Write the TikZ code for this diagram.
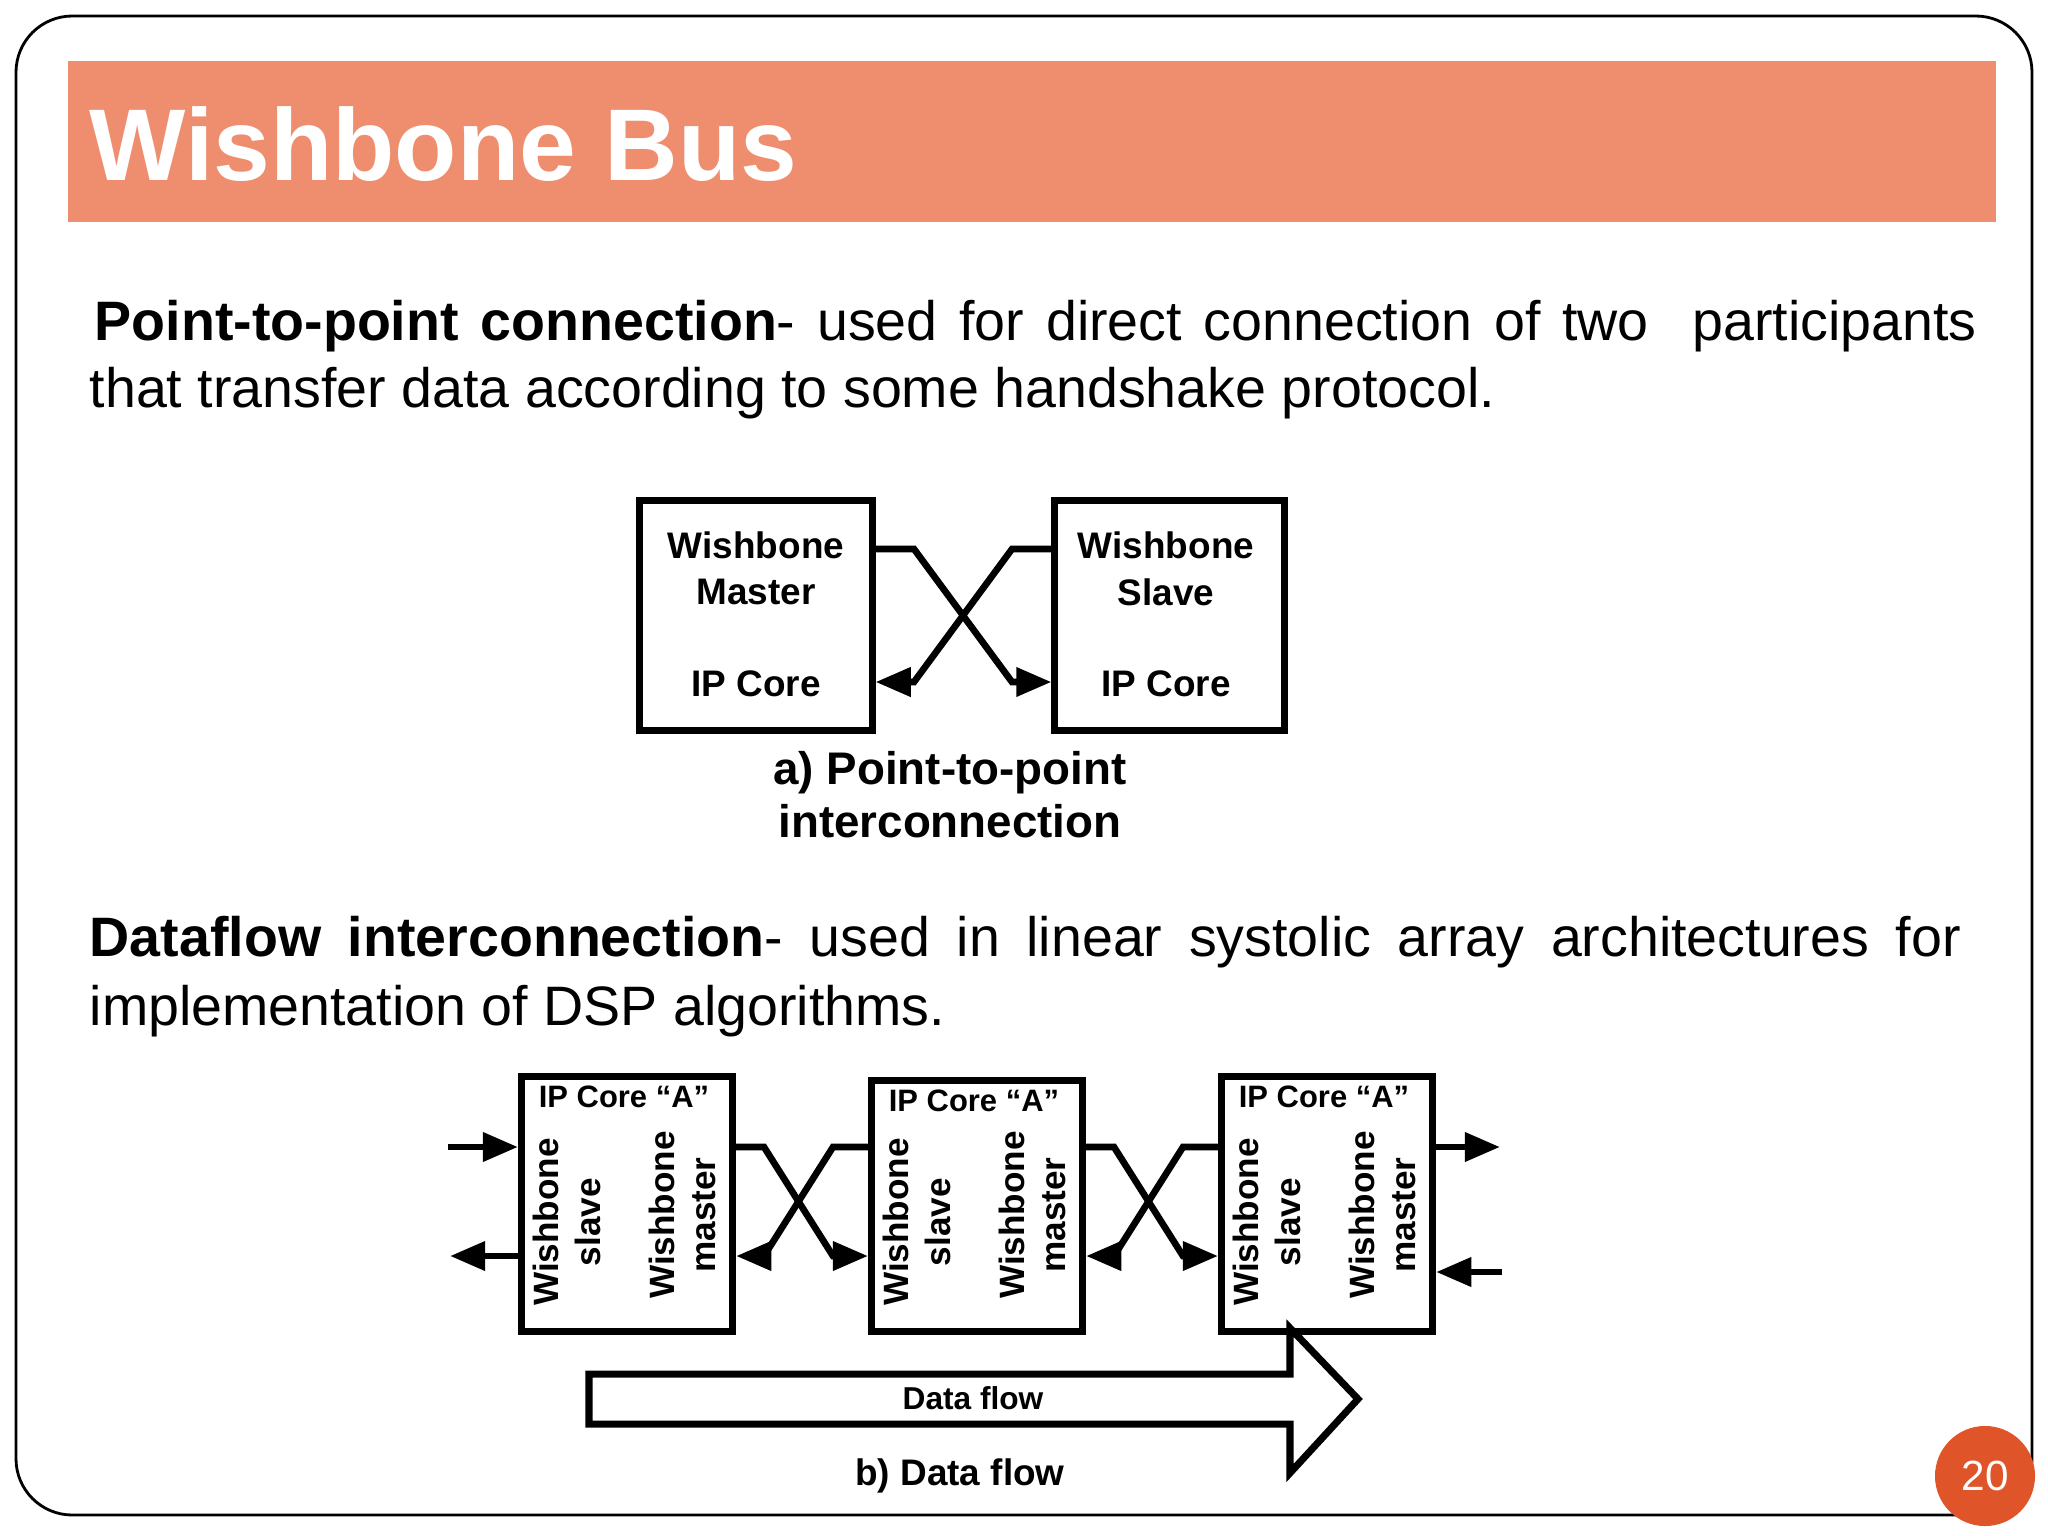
\documentclass[tikz,border=0pt]{standalone}
\usepackage{fontspec}
\setmainfont{Liberation Sans}
\usetikzlibrary{arrows.meta}
\definecolor{titlebar}{HTML}{EE8E6E}
\definecolor{pagecirc}{HTML}{E0542A}
\begin{document}
\begin{tikzpicture}[x=0.01cm,y=-0.01cm,
  box/.style={draw,line width=2pt},
  wire/.style={line width=1.9pt},
  arr/.style={wire,-{Triangle[length=10pt,width=8pt]}},
  lbl/.style={font=\fontsize{10.5}{12}\selectfont\bfseries,inner sep=0},
  rl/.style={font=\fontsize{10}{12}\selectfont\bfseries,inner sep=0,rotate=90},
  body/.style={font=\fontsize{15.8}{19.6}\selectfont,inner sep=0,anchor=base west}]
\useasboundingbox (0,0) rectangle (2048,1536);
\draw[line width=0.8pt,rounded corners=16pt] (16,16) rectangle (2032,1515);
\fill[titlebar] (68,61) rectangle (1996,222);
\node[anchor=base west,inner sep=0,text=white,font=\fontsize{29}{36}\selectfont\bfseries] (title) at (89,180) {Wishbone Bus};
% paragraph 1
\node[body] (p1a) at (94,340) {\makebox[18.81cm][s]{\textbf{Point-to-point connection}- used for direct connection of two\ \ participants}};
\node[body] (p1b) at (89,407) {that transfer data according to some handshake protocol.};
% diagram a
\node[box,minimum width=2.32cm,minimum height=2.29cm,inner sep=0] (m) at (756,615.5) {};
\node[box,minimum width=2.29cm,minimum height=2.29cm,inner sep=0] (s) at (1169.5,615.5) {};
\node[lbl] (mt1) at (756,545) {Wishbone};
\node[lbl] (mt2) at (756,592) {Master};
\node[lbl] (mt3) at (756,684) {IP Core};
\node[lbl] (st1) at (1166,545) {Wishbone};
\node[lbl] (st2) at (1166,592) {Slave};
\node[lbl] (st3) at (1166,684) {IP Core};
\coordinate (ma) at (914,549); \coordinate (mb) at (1012,682);
\coordinate (sa) at (1012,549); \coordinate (sb) at (914,682);
\draw[arr] (m.east|-ma) -- (ma) -- (mb) -- (s.west|-mb);
\draw[arr] (s.west|-sa) -- (sa) -- (sb) -- (m.east|-sb);
\node[font=\fontsize{13}{15}\selectfont\bfseries,inner sep=0,align=center] (capa) at (950,795) {a) Point-to-point\\[0pt]interconnection};
% paragraph 2
\node[body] (p2a) at (89,956) {\makebox[18.70cm][s]{\textbf{Dataflow interconnection}- used in linear systolic array architectures for}};
\node[body] (p2b) at (89,1025) {implementation of DSP algorithms.};
% diagram b
\foreach \i/\x/\t/\h in {1/518/1073/2.55cm,2/868/1077/2.51cm,3/1218/1073/2.55cm}{
  \node[box,minimum width=2.11cm,minimum height=\h,inner sep=0,anchor=north west] (b\i) at (\x,\t) {};
  \node[lbl,font=\fontsize{8.8}{11}\selectfont\bfseries] (h\i) at (\x+106,\t+24) {IP Core ``A''};
  \node[rl] (ws\i) at (\x+28,1222) {Wishbone};
  \node[rl] (sl\i) at (\x+70,1222) {slave};
  \node[rl] (wm\i) at (\x+144,1215) {Wishbone};
  \node[rl] (ms\i) at (\x+186,1215) {master};
}
\foreach \a/\b/\l/\r in {1/2/764/833,2/3/1114/1183}{
  \coordinate (c\a a) at (\l,1147); \coordinate (c\a b) at (\r,1256);
  \coordinate (c\a c) at (\r,1147); \coordinate (c\a d) at (\l,1256);
  \draw[arr] (b\a.east|-c\a a) -- (c\a a) -- (c\a b) -- (b\b.west|-c\a b);
  \draw[arr] (b\b.west|-c\a c) -- (c\a c) -- (c\a d) -- (b\a.east|-c\a d);
}
\coordinate (inl) at (448,1147); \coordinate (outl) at (450,1256);
\coordinate (outr) at (1500,1147); \coordinate (inr) at (1502,1272);
\draw[arr] (inl) -- (b1.west|-inl);
\draw[arr] (b1.west|-outl) -- (outl);
\draw[arr] (b3.east|-outr) -- (outr);
\draw[arr] (inr) -- (b3.east|-inr);
\draw[line width=2pt,fill=white] (589,1374) -- (1290,1374) -- (1290,1328) -- (1358,1399) -- (1290,1473) -- (1290,1424) -- (589,1424) -- cycle;
\node[lbl,font=\fontsize{9}{11}\selectfont\bfseries] (df) at (973,1398) {Data flow};
\node[lbl,font=\fontsize{10.5}{13}\selectfont\bfseries] (capb) at (960,1476) {b) Data flow};
% page number
\node[circle,fill=pagecirc,minimum size=1cm,inner sep=0,text=white,font=\fontsize{12}{14}\selectfont] (pg) at (1985,1476) {20};
\end{tikzpicture}
\end{document}
